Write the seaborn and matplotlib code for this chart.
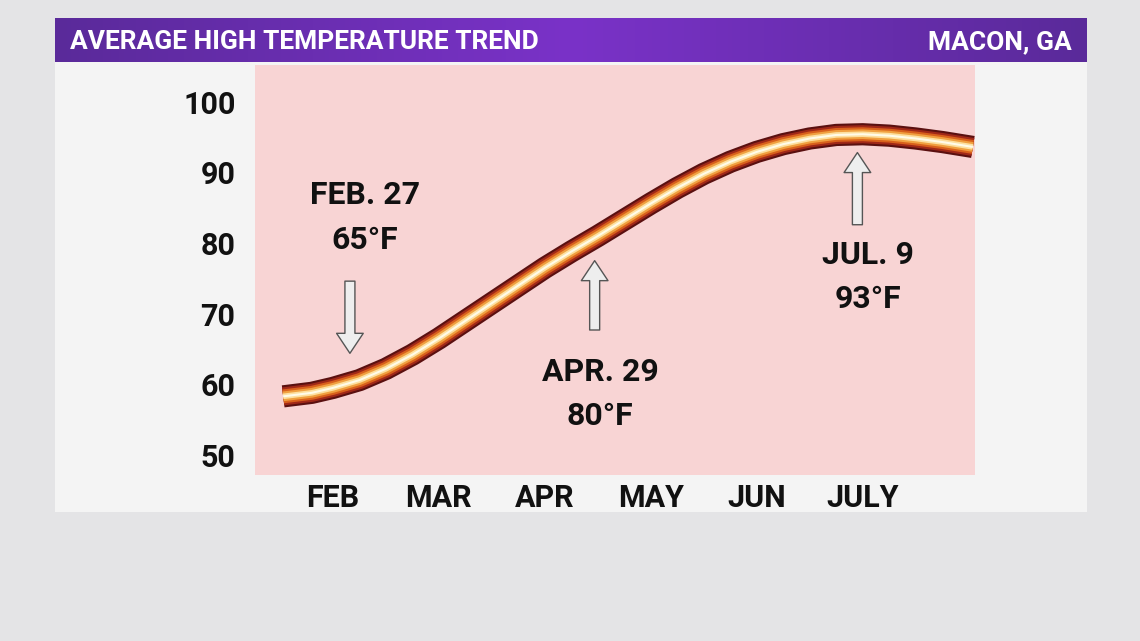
import matplotlib
matplotlib.use("Agg")
import matplotlib.pyplot as plt
import seaborn as sns
import numpy as np
import pandas as pd
from matplotlib.colors import LinearSegmentedColormap

months = ["FEB", "MAR", "APR", "MAY", "JUN", "JULY"]
curve_x = [-0.47, -0.2, 0.0, 0.25, 0.5, 0.75, 1.0, 1.25, 1.5, 1.75, 2.0, 2.25, 2.5, 2.75,
           3.0, 3.25, 3.5, 3.75, 4.0, 4.25, 4.5, 4.75, 5.0, 5.25, 5.5, 5.75, 6.04]
curve_y = [58.3, 58.8, 59.5, 60.6, 62.2, 64.2, 66.5, 69.0, 71.5, 74.0, 76.5, 78.8, 81.0, 83.3,
           85.6, 87.8, 89.8, 91.5, 92.9, 94.0, 94.8, 95.3, 95.4, 95.2, 94.8, 94.3, 93.6]
yticks = [50, 60, 70, 80, 90, 100]
notes = [("FEB. 27\n65°F", 0.3, 83.6, 0.16, 75.0, 0.16, 64.0),
         ("APR. 29\n80°F", 2.52, 58.6, 2.47, 67.3, 2.47, 77.9),
         ("JUL. 9\n93°F", 5.05, 75.2, 4.95, 82.2, 4.95, 93.2)]

sns.set_theme(style="white")
plt.rcParams['font.family'] = ['Roboto', 'DejaVu Sans']
W, H = 1140, 641
fig = plt.figure(figsize=(W/100, H/100), dpi=100)
fig.patch.set_facecolor("#e4e4e6")
bg = fig.add_axes([55/W, 1-512/H, 1032/W, 450/H], zorder=-5)
bg.set_facecolor("#f4f4f4")
bg.set_xticks([]); bg.set_yticks([])
for s in bg.spines.values():
    s.set_visible(False)

bar = fig.add_axes([55/W, 1-62/H, 1032/W, 44/H])
grad = np.linspace(0, 1, 256)[None, :]
cm = LinearSegmentedColormap.from_list("p", ["#5a2a9a", "#7a32c8", "#5a2a9a"])
bar.imshow(grad, aspect="auto", cmap=cm, extent=[0, 1, 0, 1])
bar.set_axis_off()
bar.text(0.015, 0.45, "AVERAGE HIGH TEMPERATURE TREND", color="white", fontsize=19, fontweight="bold", va="center")
bar.text(0.985, 0.45, "MACON, GA", color="white", fontsize=19, fontweight="bold", va="center", ha="right")

ax = fig.add_axes([255/W, 1-475/H, 720/W, 410/H])
ax.set_facecolor("#f8d4d4")
df = pd.DataFrame({"x": curve_x, "y": curve_y})
layers = [(16, "#5a1010"), (13, "#a02818"), (10, "#d8601c"), (7, "#f0a040"), (4, "#fde0a0"), (1.5, "#fffbe8")]
for lw, c in layers:
    sns.lineplot(data=df, x="x", y="y", ax=ax, color=c, linewidth=lw, sort=False, solid_capstyle="butt")
ax.set_xlim(-0.736, 6.06)
ax.set_ylim(47.17, 105.2)
ax.set_yticks(yticks)
ax.set_yticklabels([str(v) for v in yticks], fontsize=22, fontweight="bold", color="#111111")
ax.set_xticks(range(len(months)))
ax.set_xticklabels(months, fontsize=22, fontweight="bold", color="#111111")
ax.tick_params(axis="y", pad=14, length=0)
ax.tick_params(axis="x", pad=6, length=0)
ax.set_xlabel(""); ax.set_ylabel("")
for s in ax.spines.values():
    s.set_visible(False)
for txt, tx, ty, ax0, ay0, ax1, ay1 in notes:
    ax.text(tx, ty, txt, ha="center", va="center", fontsize=23, fontweight="bold", color="#111111", linespacing=1.6)
    ax.annotate("", xy=(ax1, ay1), xytext=(ax0, ay0),
                arrowprops=dict(arrowstyle="simple,head_width=1.6,head_length=1.2,tail_width=0.6",
                                fc="#eeeeee", ec="#555555", lw=1))
fig.savefig("out.png", dpi=100, facecolor=fig.get_facecolor())
